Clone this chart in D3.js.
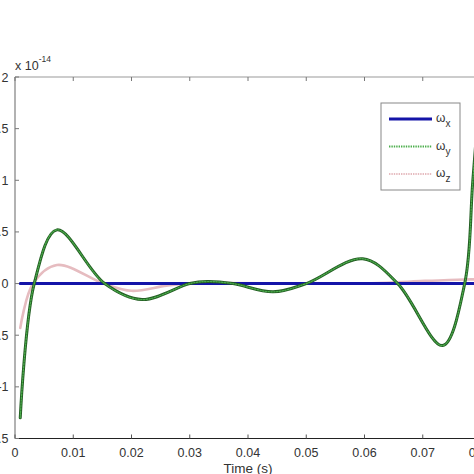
<!DOCTYPE html>
<html lang="en">
<head>
  <meta charset="UTF-8">
  <title>Angular velocity error</title>
  <script src="https://d3js.org/d3.v7.min.js"></script>
  <style>
    body { margin: 0; padding: 0; background: #fff; overflow: hidden; }
    svg { display: block; }
    .tick-label { font: 12.5px "Liberation Sans", Arial, sans-serif; fill: #333; }
    .axis-title { font: 13.5px "Liberation Sans", Arial, sans-serif; fill: #333; }
    .legend-text { font: 12px "Liberation Sans", Arial, sans-serif; fill: #333; }
    .line { fill: none; stroke-linejoin: round; stroke-linecap: round; }
  </style>
</head>
<body>
  <script>
    // time (s) and values in units of 1e-14
    const timeY = [0.0009, 0.0033, 0.0072, 0.0154, 0.0218, 0.030, 0.033, 0.0374, 0.0443, 0.050,
                   0.0597, 0.0657, 0.0734, 0.0772, 0.0786, 0.080];
    const omegaY = [-1.30, 0.0, 0.52, 0.0, -0.155, 0.0, 0.02, 0.0, -0.08, 0.0,
                    0.24, 0.0, -0.60, 0.0, 1.0, 2.0];

    const timeZ = [0.0009, 0.0031, 0.0072, 0.0152, 0.020, 0.026, 0.030, 0.060, 0.068, 0.077, 0.080];
    const omegaZ = [-0.43, 0.0, 0.18, 0.0, -0.07, -0.02, 0.0, 0.0, 0.02, 0.04, 0.04];

    const timeX = [0.0009, 0.080];
    const omegaX = [0, 0];

    const xTicks = [0, 0.01, 0.02, 0.03, 0.04, 0.05, 0.06, 0.07, 0.08];
    const yTicks = [2, 1.5, 1, 0.5, 0, -0.5, -1, -1.5];
    const seriesNames = ["x", "y", "z"];

    const W = 474, H = 474;
    const svg = d3.select("body").append("svg").attr("width", W).attr("height", H);

    const x = d3.scaleLinear().domain([0, 0.08]).range([15, 481]);
    const y = d3.scaleLinear().domain([-1.5, 2]).range([438.5, 77]);

    const line = d3.line().x(d => x(d[0])).y(d => y(d[1])).curve(d3.curveCatmullRom.alpha(0.5));
    const zip = (a, b) => a.map((t, i) => [t, b[i]]);

    const x0 = x.range()[0], x1 = x.range()[1], y0 = y.range()[0], y1 = y.range()[1];

    // series
    svg.append("clipPath").attr("id", "plot").append("rect")
      .attr("x", x0).attr("y", y1).attr("width", x1 - x0).attr("height", y0 - y1);
    const g = svg.append("g").attr("clip-path", "url(#plot)");

    g.append("path").attr("class", "line").attr("d", line(zip(timeZ, omegaZ)))
      .attr("stroke", "#e6bcc0").attr("stroke-width", 2.6);
    g.append("path").attr("class", "line").attr("d", line(zip(timeX, omegaX)))
      .attr("stroke", "#1414a8").attr("stroke-width", 3);
    g.append("path").attr("class", "line").attr("d", line(zip(timeY, omegaY)))
      .attr("stroke", "#245f24").attr("stroke-width", 3);
    g.append("path").attr("class", "line").attr("d", line(zip(timeY, omegaY)))
      .attr("stroke", "#4cae4c").attr("stroke-width", 1.2).attr("stroke-dasharray", "1.4,1.4");

    // axes box
    svg.append("line").attr("x1", x0).attr("x2", x1).attr("y1", y1).attr("y2", y1).attr("stroke", "#999").attr("stroke-width", 1.2);
    svg.append("line").attr("x1", x0).attr("x2", x0).attr("y1", y1).attr("y2", y0).attr("stroke", "#999").attr("stroke-width", 1.5);
    svg.append("line").attr("x1", x0).attr("x2", x1).attr("y1", y0).attr("y2", y0).attr("stroke", "#222").attr("stroke-width", 1.2);

    // x ticks (inside, top and bottom)
    xTicks.forEach(t => {
      svg.append("line").attr("x1", x(t)).attr("x2", x(t)).attr("y1", y0).attr("y2", y0 - 4).attr("stroke", "#555");
      svg.append("line").attr("x1", x(t)).attr("x2", x(t)).attr("y1", y1).attr("y2", y1 + 4).attr("stroke", "#777");
      svg.append("text").attr("class", "tick-label").attr("x", x(t)).attr("y", y0 + 18)
        .attr("text-anchor", "middle").text(t === 0 ? "0" : d3.format(".2f")(t));
    });

    // y ticks
    yTicks.forEach(v => {
      svg.append("line").attr("x1", x0).attr("x2", x0 + 4).attr("y1", y(v)).attr("y2", y(v)).attr("stroke", "#777");
      svg.append("text").attr("class", "tick-label").attr("x", 8.5).attr("y", y(v) + 4.5)
        .attr("text-anchor", "end").text(v);
    });

    // exponent
    const ex = svg.append("text").attr("class", "tick-label").attr("x", 15).attr("y", 70).attr("font-size", 11.5);
    ex.append("tspan").text("x 10");
    ex.append("tspan").attr("dy", -8).attr("font-size", 8.5).text("-14");

    svg.append("text").attr("class", "axis-title").attr("x", (x0 + x1) / 2).attr("y", y0 + 34)
      .attr("text-anchor", "middle").text("Time (s)");

    // legend
    const lg = svg.append("g");
    lg.append("rect").attr("x", 381).attr("y", 103).attr("width", 79).attr("height", 87)
      .attr("fill", "#fff").attr("stroke", "#888").attr("stroke-width", 1);
    const legendStyles = [
      { stroke: "#1414a8", w: 3 },
      { stroke: "#4cae4c", w: 2.2, dash: "1.4,1" },
      { stroke: "#e6bcc0", w: 2.2, dash: "1.4,1" }
    ];
    seriesNames.forEach((s, i) => {
      const ly = 119 + i * 27.5;
      lg.append("line").attr("x1", 389).attr("x2", 432).attr("y1", ly).attr("y2", ly)
        .attr("stroke", legendStyles[i].stroke).attr("stroke-width", legendStyles[i].w)
        .attr("stroke-dasharray", legendStyles[i].dash || null);
      const t = lg.append("text").attr("class", "legend-text").attr("x", 436).attr("y", ly + 3);
      t.append("tspan").text("\u03c9");
      t.append("tspan").attr("dy", 5).attr("font-size", 10).text(s);
    });
  </script>
</body>
</html>
